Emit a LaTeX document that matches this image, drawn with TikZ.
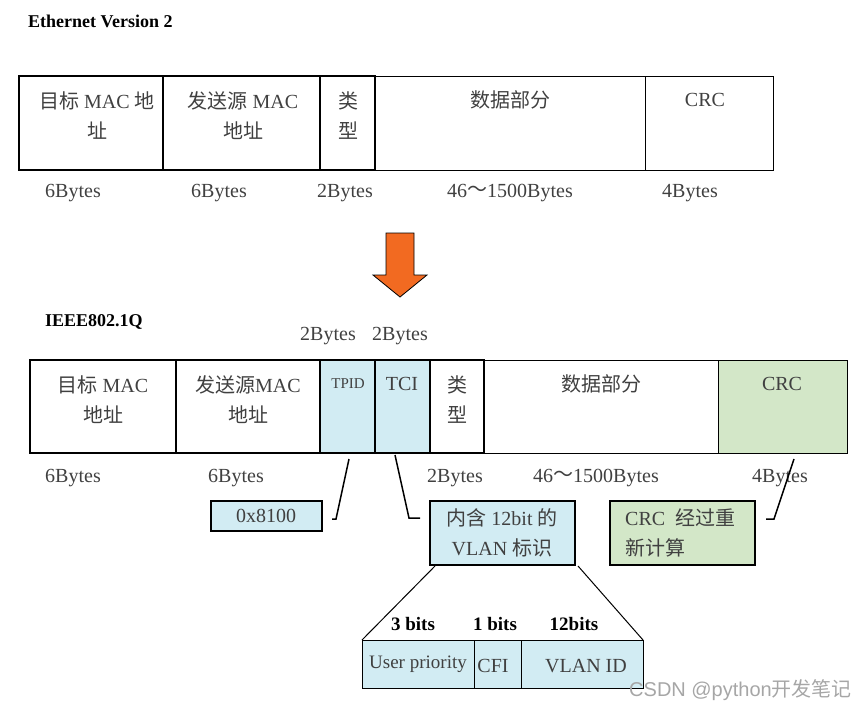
\documentclass[tikz,border=0pt]{standalone}
\usepackage{fontspec}
\setmainfont{Liberation Serif}
\newfontfamily\cjk{Noto Sans CJK SC}
\newfontfamily\wm{Liberation Sans}
\begin{document}
\begin{tikzpicture}[x=1pt,y=-1pt,
  txt/.style={font=\fontsize{20}{22}\selectfont,text=black!75,inner sep=0},
  cell/.style={draw,line width=0.8pt},
  thick/.style={draw,line width=2.2pt},
  bits/.style={font=\bfseries\fontsize{19}{20}\selectfont,inner sep=0},
  ln/.style={line width=1.5pt}]
\useasboundingbox (0,0) rectangle (867,714);
\definecolor{lblue}{HTML}{D2ECF3}
\definecolor{lgreen}{HTML}{D3E7C8}
\definecolor{orng}{HTML}{F26A21}
% top
\node[font=\bfseries\fontsize{18}{20}\selectfont,anchor=west,inner sep=0] (t1) at (28,21) {Ethernet Version 2};
\draw[cell] (375,76) rectangle (645,170);
\draw[cell] (645,76) rectangle (773,170);
\draw[thick] (19,76) rectangle (375,170);
\draw[thick] (163,76) -- (163,170);
\draw[thick] (320,76) -- (320,170);
\node[txt,align=center] (a1) at (97,116) {{\cjk 目标} MAC {\cjk 地}\\[8pt]{\cjk 址}};
\node[txt,align=center] (a2) at (243,116) {{\cjk 发送源} MAC\\[8pt]{\cjk 地址}};
\node[txt,align=center] (a3) at (348,116) {{\cjk 类}\\[8pt]{\cjk 型}};
\node[txt] (a4) at (510,100) {\cjk 数据部分};
\node[txt] (a5) at (705,100) {CRC};
\node[txt] (b1) at (73,193) {6Bytes};
\node[txt] (b2) at (219,193) {6Bytes};
\node[txt] (b3) at (345,193) {2Bytes};
\node[txt] (b4) at (510,193) {46\raisebox{1pt}{\cjk ～}1500Bytes};
\node[txt] (b5) at (690,193) {4Bytes};
% arrow
\draw[fill=orng,line width=0.8pt] (386,233) -- (414,233) -- (414,275) -- (427,275) -- (400,297) -- (373,275) -- (386,275) -- cycle;
% bottom
\node[font=\bfseries\fontsize{18}{20}\selectfont,anchor=west,inner sep=0] (t2) at (45,322) {IEEE802.1Q};
\node[txt] (c1) at (328,336) {2Bytes};
\node[txt] (c2) at (400,336) {2Bytes};
\draw[cell,fill=lblue] (320,360) rectangle (375,453);
\draw[cell,fill=lblue] (375,360) rectangle (430,453);
\draw[cell] (484,360) rectangle (718,453);
\draw[cell,fill=lgreen] (718,360) rectangle (847,453);
\draw[thick] (30,360) rectangle (484,453);
\draw[thick] (176,360) -- (176,453);
\draw[thick] (320,360) -- (320,453);
\draw[thick] (375,360) -- (375,453);
\draw[thick] (430,360) -- (430,453);
\node[txt,align=center] (d1) at (103,400) {{\cjk 目标} MAC\\[8pt]{\cjk 地址}};
\node[txt,align=center] (d2) at (248,400) {{\cjk 发送源}MAC\\[8pt]{\cjk 地址}};
\node[txt,font=\fontsize{15}{16}\selectfont] (tpid) at (348,384) {TPID};
\node[txt] (tci) at (402,384) {TCI};
\node[txt,align=center] (d3) at (457,400) {{\cjk 类}\\[8pt]{\cjk 型}};
\node[txt] (d4) at (601,384) {\cjk 数据部分};
\node[txt] (d5) at (782,384) {CRC};
\node[txt] (e1) at (73,478) {6Bytes};
\node[txt] (e2) at (236,478) {6Bytes};
\node[txt] (e3) at (455,478) {2Bytes};
\node[txt] (e4) at (596,478) {46\raisebox{1pt}{\cjk ～}1500Bytes};
\node[txt] (e5) at (780,478) {4Bytes};
% boxes
\draw[cell,line width=1.5pt,fill=lblue] (211,501) rectangle (322,531);
\node[txt] (x8100) at (266,516) {0x8100};
\draw[cell,line width=1.5pt,fill=lblue] (430,501) rectangle (575,565);
\node[txt,align=center] (vl) at (502,533) {{\cjk 内含} 12bit {\cjk 的}\\[8pt]VLAN {\cjk 标识}};
\draw[cell,line width=1.5pt,fill=lgreen] (610,501) rectangle (755,565);
\node[txt,align=left,anchor=west] (crc2) at (625,533) {CRC\ \ {\cjk 经过重}\\[8pt]{\cjk 新计算}};
\coordinate (p1) at (349,459); \coordinate (p2) at (336,519); \coordinate (p3) at (332,519);
\draw[ln] (p1) -- (p2) -- (p3);
\coordinate (q1) at (395,455); \coordinate (q2) at (409,518); \coordinate (q3) at (420,518);
\draw[ln] (q1) -- (q2) -- (q3);
\coordinate (r1) at (794,459); \coordinate (r2) at (774,519); \coordinate (r3) at (766,519);
\draw[ln] (r1) -- (r2) -- (r3);
% bits
\draw[cell,fill=lblue] (362,640) rectangle (643,688);
\draw[cell] (474,640) -- (474,688);
\draw[cell] (521,640) -- (521,688);
\coordinate (f1) at (435,566); \coordinate (f2) at (362,640);
\coordinate (f3) at (578,566); \coordinate (f4) at (643,640);
\draw[line width=1pt] (f1) -- (f2);
\draw[line width=1pt] (f3) -- (f4);
\node[bits] (g1) at (413,624) {3 bits};
\node[bits] (g2) at (495,624) {1 bits};
\node[bits] (g3) at (574,624) {12bits};
\node[txt,font=\fontsize{19}{20}\selectfont] (h1) at (418,664) {User priority};
\node[txt] (h2) at (493,666) {CFI};
\node[txt] (h3) at (586,666) {VLAN ID};
\node[font=\wm\fontsize{20}{22}\selectfont,text=black!35,inner sep=0,anchor=east] (w) at (852,690) {CSDN @python{\cjk 开发笔记}};
\end{tikzpicture}
\end{document}
